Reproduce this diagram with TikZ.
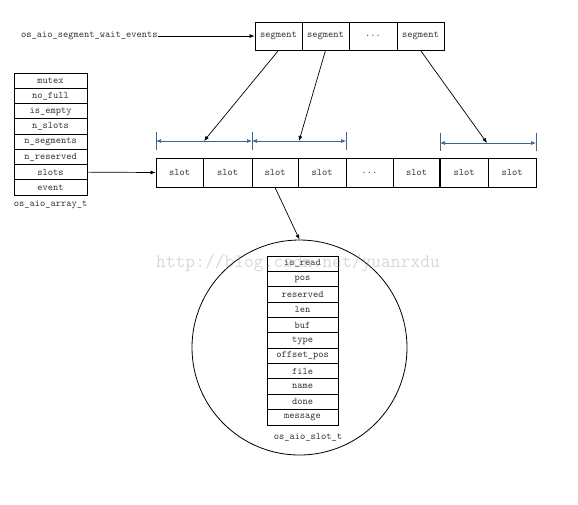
\documentclass[tikz,border=0pt]{standalone}
\usetikzlibrary{arrows.meta}
\definecolor{txt}{HTML}{333333}
\definecolor{brk}{HTML}{3D6591}
\newcommand\mydots{...}
\begin{document}
\begin{tikzpicture}[x=1pt,y=-1pt,
  font=\ttfamily\fontsize{10}{12}\selectfont,
  cell/.style={draw, line width=0.8pt, inner sep=0pt, text=txt, minimum height=#1},
  cell/.default=15.3pt,
  lbl/.style={text=txt, inner sep=0pt},
  arr/.style={-{Latex[length=5pt,width=4pt]}, line width=0.7pt},
  dbl/.style={{Latex[length=5pt,width=4pt]}-{Latex[length=5pt,width=4pt]}, line width=0.7pt, draw=brk},
  tick/.style={draw=brk, line width=0.7pt}]
\useasboundingbox[fill=white] (0,0) rectangle (578,504);

% top segment row
\node[cell=28pt, minimum width=47pt] (s1) at (278.5,36) {segment};
\node[cell=28pt, minimum width=47pt] (s2) at (325.5,36) {segment};
\node[cell=28pt, minimum width=48pt] (s3) at (373,36) {\mydots};
\node[cell=28pt, minimum width=47pt] (s4) at (420.5,36) {segment};
\node[lbl, anchor=west] (wait) at (21,36) {os\_aio\_segment\_wait\_events};
\draw[arr] (wait.east) -- (s1.west);

% left array
\foreach \n/\t [count=\i] in {mutex/mutex, nofull/no\_full, isempty/is\_empty, nslots/n\_slots, nseg/n\_segments, nres/n\_reserved, slots/slots, event/event}{
  \node[cell, minimum width=73pt] (\n) at (50.5,{73+15.25*(\i-0.5)}) {\t};
}
\node[lbl] (arrt) at (50.5,205) {os\_aio\_array\_t};

% slot row
\foreach \c/\w/\t [count=\i] in {179.5/47/slot, 227.5/49/slot, 275/46/slot, 322/48/slot, 369.5/47/\mydots, 416.5/47/slot, 464/48/slot, 512/48/slot}{
  \node[cell=29pt, minimum width=\w pt] (sl\i) at (\c,172.5) {\t};
}
\draw[line width=1.4pt] (sl7.north west) -- (sl7.south west);
\draw[arr] (slots.east) -- (sl1.west);

% brackets
\coordinate (b1l) at (156,141); \coordinate (b1r) at (252,141);
\coordinate (b2l) at (252,141); \coordinate (b2r) at (346,141);
\coordinate (b3l) at (440,143); \coordinate (b3r) at (536,143);
\foreach \x in {156,252,346}{ \draw[tick] (\x,132) -- (\x,150); }
\foreach \x in {440,536}{ \draw[tick] (\x,133) -- (\x,151); }
\draw[dbl] (b1l) -- (b1r);
\draw[dbl] (b2l) -- (b2r);
\draw[dbl] (b3l) -- (b3r);
\coordinate (t1) at (204,141);
\coordinate (t2) at (299,141);
\coordinate (t4) at (487,143);
\draw[arr] (s1.south) -- (t1);
\draw[arr] (s2.south) -- (t2);
\draw[arr] (s4.south) -- (t4);

% circle and slot struct
\node[draw, circle, line width=0.8pt, minimum size=215pt, inner sep=0pt] (circ) at (299.5,347.5) {};
\draw[arr] (sl3.south) -- (circ.north);
\foreach \n/\t [count=\i] in {isread/is\_read, pos/pos, reserved/reserved, len/len, buf/buf, type/type, offpos/offset\_pos, file/file, name/name, done/done, message/message}{
  \node[cell=15.36pt, minimum width=71pt] (\n) at (302.5,{256+15.36*(\i-0.5)}) {\t};
}
\node[lbl] (slott) at (308,437) {os\_aio\_slot\_t};

% watermark
\node[text=gray, opacity=0.3, inner sep=0pt, font=\ttfamily\fontsize{19}{22}\selectfont] (wm) at (298,263) {http://blog.csdn.net/yuanrxdu};
\end{tikzpicture}
\end{document}
